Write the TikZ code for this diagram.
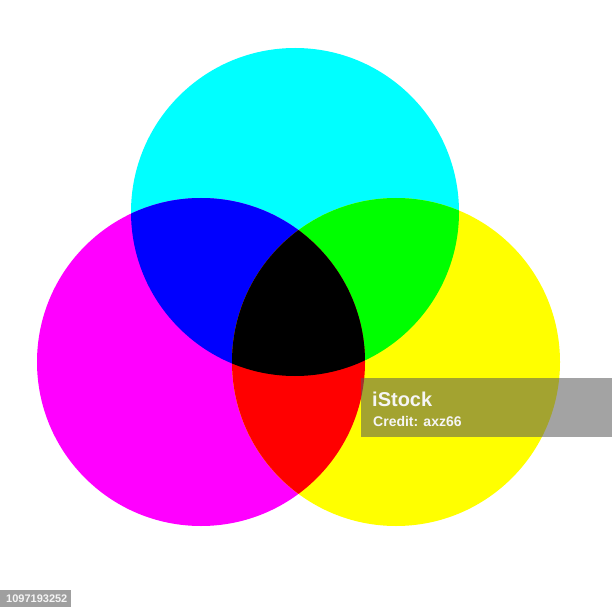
\documentclass[tikz,border=0pt]{standalone}
\usepackage{fontspec}
\setmainfont{Liberation Sans}
\begin{document}
\begin{tikzpicture}[x=1pt,y=-1pt,
  disc/.style={fill=#1, draw=none},
  wmtext/.style={text=white!92!gray, anchor=west, inner sep=0pt, font=\bfseries}]
\useasboundingbox[fill=white] (0,0) rectangle (612,612);
\def\R{164}
\coordinate (C) at (295,212);
\coordinate (M) at (201,362);
\coordinate (Y) at (396,362);
\definecolor{cy}{RGB}{0,255,255}
\definecolor{mg}{RGB}{255,0,255}
\definecolor{yl}{RGB}{255,255,0}
\definecolor{bl}{RGB}{0,0,255}
\definecolor{gr}{RGB}{0,255,0}
\definecolor{rd}{RGB}{255,0,0}
% single discs
\fill[disc=cy] (C) circle (\R);
\fill[disc=mg] (M) circle (\R);
\fill[disc=yl] (Y) circle (\R);
% pairwise overlaps
\begin{scope}
  \clip (C) circle (\R);
  \fill[disc=bl] (M) circle (\R);
  \fill[disc=gr] (Y) circle (\R);
\end{scope}
\begin{scope}
  \clip (M) circle (\R);
  \fill[disc=rd] (Y) circle (\R);
\end{scope}
% triple overlap
\begin{scope}
  \clip (C) circle (\R);
  \clip (M) circle (\R);
  \fill[disc=black] (Y) circle (\R);
\end{scope}
% watermark bar
\fill[gray!70!black, opacity=0.55] (361,378) rectangle (612,437);
\node[wmtext, font=\bfseries\fontsize{20}{20}\selectfont] (ist) at (372,399) {iStock};
\node[wmtext, font=\bfseries\fontsize{14}{14}\selectfont] (cred) at (373,421) {Credit: axz66};
% id box
\fill[gray!75] (0,590) rectangle (71,607);
\node[wmtext, font=\bfseries\fontsize{11}{11}\selectfont] (id) at (6,598.5) {1097193252};
\end{tikzpicture}
\end{document}
